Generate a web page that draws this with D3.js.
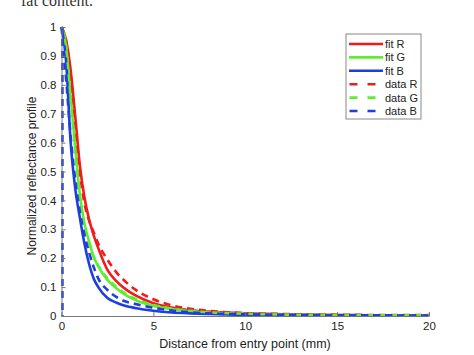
<!DOCTYPE html>
<html><head><meta charset="utf-8">
<script src="https://cdn.jsdelivr.net/npm/d3@7"></script>
<style>body{margin:0;background:#fff}svg{display:block}</style>
</head><body>
<svg id="c" width="474" height="355"></svg>
<script>
// ---- data ----
const distance = [0,0.25,0.5,0.75,1,1.25,1.5,1.75,2,2.5,3,3.5,4,5,6,7,8,10,12,14,16,18,20];
const fitR  = [1,0.955,0.85,0.69,0.52,0.41,0.335,0.28,0.235,0.16,0.12,0.092,0.072,0.044,0.029,0.02,0.015,0.009,0.006,0.004,0.003,0.002,0.002];
const fitG  = [1,0.94,0.76,0.58,0.42,0.32,0.258,0.205,0.172,0.125,0.095,0.072,0.056,0.035,0.024,0.017,0.012,0.007,0.005,0.003,0.002,0.002,0.001];
const fitB  = [1,0.88,0.6,0.44,0.34,0.25,0.18,0.13,0.1,0.062,0.046,0.035,0.028,0.018,0.012,0.009,0.007,0.004,0.003,0.002,0.0015,0.001,0.001];
const dataR = [1,0.95,0.83,0.67,0.5,0.39,0.33,0.29,0.25,0.195,0.15,0.118,0.092,0.058,0.037,0.025,0.018,0.01,0.007,0.005,0.004,0.003,0.003];
const dataG = [1,0.93,0.75,0.57,0.41,0.31,0.25,0.205,0.175,0.13,0.1,0.077,0.06,0.038,0.026,0.018,0.013,0.008,0.005,0.004,0.003,0.002,0.002];
const dataB = [1,0.82,0.62,0.47,0.36,0.28,0.22,0.17,0.13,0.09,0.065,0.05,0.042,0.028,0.019,0.013,0.009,0.006,0.004,0.003,0.002,0.002,0.001];
// data B also contains a vertical drop at the entry point
const dataBEdge = [[0.05,1],[0.05,0]];
const xTicks = [0,5,10,15,20];
const yTicks = [0,0.1,0.2,0.3,0.4,0.5,0.6,0.7,0.8,0.9,1];
const seriesNames = ["fit R","fit G","fit B","data R","data G","data B"];
const seriesValues = [fitR,fitG,fitB,dataR,dataG,dataB];
const seriesColors = ["#f01c1c","#62ec2e","#1f3ee0","#f01c1c","#62ec2e","#1f3ee0"];
const seriesDashed = [false,false,false,true,true,true];

// ---- chart ----
const svg = d3.select("#c");
const x = d3.scaleLinear().domain([0,20]).range([61.5,429]);
const y = d3.scaleLinear().domain([0,1]).range([316,27]);
const font = "'Liberation Sans', Arial, sans-serif";

svg.append("text").attr("x",21).attr("y",6)
  .attr("font-family","'Liberation Serif', 'Times New Roman', serif")
  .attr("font-size",16).attr("fill","#333").text("fat content.");

const line = d3.line().x(d=>x(d[0])).y(d=>y(d[1])).curve(d3.curveMonotoneX);

seriesValues.forEach((vals,i)=>{
  const pts = distance.map((d,j)=>[d,vals[j]]);
  const p = svg.append("path").attr("d",line(pts)).attr("fill","none")
    .attr("stroke",seriesColors[i]).attr("stroke-width",2.6);
  if(seriesDashed[i]) p.attr("stroke-dasharray","7,5");
  if(seriesNames[i]==="data B"){
    svg.append("path").attr("d",d3.line().x(d=>x(d[0])).y(d=>y(d[1]))(dataBEdge))
      .attr("fill","none").attr("stroke",seriesColors[i]).attr("stroke-width",2.6)
      .attr("stroke-dasharray","7,5");
  }
});

// axes
const gx = svg.append("g").attr("transform","translate(0,316)")
  .call(d3.axisBottom(x).tickValues(xTicks).tickSize(-4).tickSizeOuter(0).tickPadding(6).tickFormat(d3.format("d")));
const gy = svg.append("g").attr("transform","translate(61.5,0)")
  .call(d3.axisLeft(y).tickValues(yTicks).tickSize(-4).tickSizeOuter(0).tickPadding(5).tickFormat(d=>String(d)));
[gx,gy].forEach(g=>{
  g.selectAll("path,line").attr("stroke","#777").attr("stroke-width",1);
  g.selectAll("text").attr("font-family",font).attr("font-size",11.5).attr("fill","#222");
});

svg.append("text").attr("x",245).attr("y",348).attr("text-anchor","middle")
  .attr("font-family",font).attr("font-size",12.5).attr("fill","#222")
  .text("Distance from entry point (mm)");
svg.append("text").attr("transform","translate(36,176) rotate(-90)").attr("text-anchor","middle")
  .attr("font-family",font).attr("font-size",12).attr("fill","#222")
  .text("Normalized reflectance profile");

// legend
const lg = svg.append("g");
lg.append("rect").attr("x",346).attr("y",34).attr("width",75).attr("height",85)
  .attr("fill","#fff").attr("stroke","#888").attr("stroke-width",1);
seriesNames.forEach((n,i)=>{
  const yy = 44 + i*13.4;
  const l = lg.append("line").attr("x1",349).attr("x2",383).attr("y1",yy).attr("y2",yy)
    .attr("stroke",seriesColors[i]).attr("stroke-width",2.6);
  if(seriesDashed[i]) l.attr("stroke-dasharray","8,10").attr("x1",349.5);
  lg.append("text").attr("x",385).attr("y",yy+4).attr("font-family",font)
    .attr("font-size",11).attr("fill","#222").text(n);
});
</script>
</body></html>
